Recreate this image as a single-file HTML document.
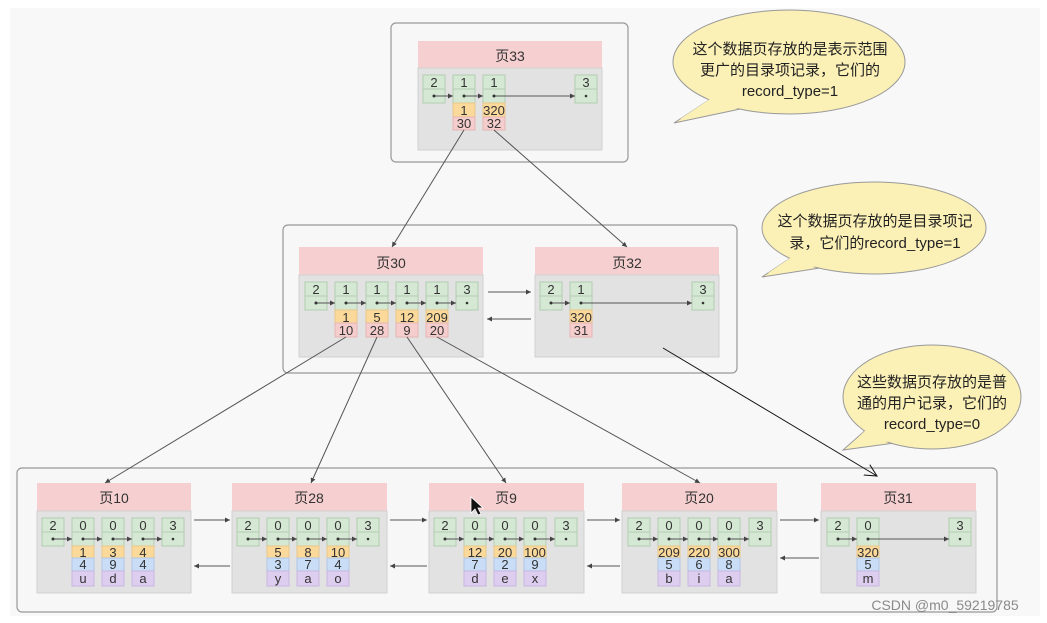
<!DOCTYPE html>
<html><head><meta charset="utf-8"><style>
html,body{margin:0;padding:0;background:#fff;}
svg{display:block;font-family:"Liberation Sans","Noto Sans CJK SC",sans-serif;}
.c{fill:#d5e8d4;stroke:#b3cdb0;stroke-width:1}
.y{fill:#fbd99a;stroke:#e9c78a}
.p{fill:#f6cdcd;stroke:#e5b5b5}
.b{fill:#c9ddf6;stroke:#b0c8e6}
.v{fill:#ddcdef;stroke:#c8b6e0}
.h{fill:#f6d0d0}
.bd{fill:#e2e2e2;stroke:#d0d0d0}
.box{fill:#f7f7f7;stroke:#999;stroke-width:1.2}
text{font-size:13px;fill:#333;text-anchor:middle}
.t{font-size:14px}
.ln{stroke:#555;stroke-width:1;fill:none}
.q{marker-start:url(#d)}
.bub{fill:#fbf0b6;stroke:#999;stroke-width:1}
.bt{font-size:15px;fill:#222}
</style></head><body>
<svg width="1047" height="623" viewBox="0 0 1047 623">
<defs>
<marker id="a" markerWidth="6" markerHeight="6" refX="5" refY="3" orient="auto" markerUnits="userSpaceOnUse"><path d="M0,0.5 L5,3 L0,5.5z" fill="#444"/></marker>
<marker id="d" markerWidth="4" markerHeight="4" refX="2" refY="2" markerUnits="userSpaceOnUse"><circle cx="2" cy="2" r="1.5" fill="#333"/></marker>
<marker id="o" markerWidth="14" markerHeight="14" refX="12" refY="7" orient="auto" markerUnits="userSpaceOnUse"><path d="M0,1 L12,7 L0,13" fill="none" stroke="#111" stroke-width="1"/></marker>
</defs>
<rect x="10" y="8" width="1030" height="608" fill="#f8f8f8"/>

<!-- TOP -->
<rect class="box" x="391" y="23" width="237" height="139" rx="5"/>
<rect class="h" x="418" y="41" width="184" height="27"/>
<rect class="bd" x="418" y="68" width="184" height="82"/>
<text x="510" y="61" class="t">页33</text>
<g>
<rect class="c" x="423" y="75" width="22" height="14"/><rect class="c" x="423" y="89" width="22" height="14"/><text x="434" y="87">2</text>
<rect class="c" x="453" y="75" width="22" height="14"/><rect class="c" x="453" y="89" width="22" height="14"/><text x="464" y="87">1</text>
<rect class="c" x="483" y="75" width="22" height="14"/><rect class="c" x="483" y="89" width="22" height="14"/><text x="494" y="87">1</text>
<rect class="c" x="575" y="75" width="22" height="14"/><rect class="c" x="575" y="89" width="22" height="14"/><text x="586" y="87">3</text>
<rect class="y" x="453" y="103" width="22" height="14"/><text x="464" y="115">1</text>
<rect class="p" x="453" y="117" width="22" height="13"/><text x="464" y="128">30</text>
<rect class="y" x="483" y="103" width="22" height="14"/><text x="494" y="115">320</text>
<rect class="p" x="483" y="117" width="22" height="13"/><text x="494" y="128">32</text>
<line class="ln q" x1="434" y1="96" x2="453" y2="96" marker-end="url(#a)"/>
<line class="ln q" x1="464" y1="96" x2="483" y2="96" marker-end="url(#a)"/>
<line class="ln q" x1="494" y1="96" x2="575" y2="96" marker-end="url(#a)"/>
<circle cx="586" cy="96" r="1.3" fill="#333"/>
</g>

<!-- MIDDLE -->
<rect class="box" x="283" y="225" width="454" height="148" rx="5"/>
<rect class="h" x="299" y="247" width="184" height="28"/>
<rect class="bd" x="299" y="275" width="184" height="82"/>
<text x="391" y="268" class="t">页30</text>
<rect class="h" x="535" y="247" width="184" height="28"/>
<rect class="bd" x="535" y="275" width="184" height="82"/>
<text x="627" y="268" class="t">页32</text>
<g>
<rect class="c" x="305" y="282" width="22" height="14"/><rect class="c" x="305" y="296" width="22" height="14"/><text x="316" y="294">2</text>
<rect class="c" x="335" y="282" width="22" height="14"/><rect class="c" x="335" y="296" width="22" height="14"/><text x="346" y="294">1</text>
<rect class="c" x="366" y="282" width="22" height="14"/><rect class="c" x="366" y="296" width="22" height="14"/><text x="377" y="294">1</text>
<rect class="c" x="396" y="282" width="22" height="14"/><rect class="c" x="396" y="296" width="22" height="14"/><text x="407" y="294">1</text>
<rect class="c" x="426" y="282" width="22" height="14"/><rect class="c" x="426" y="296" width="22" height="14"/><text x="437" y="294">1</text>
<rect class="c" x="456" y="282" width="22" height="14"/><rect class="c" x="456" y="296" width="22" height="14"/><text x="467" y="294">3</text>
<rect class="y" x="335" y="310" width="22" height="13"/><text x="346" y="322">1</text>
<rect class="p" x="335" y="323" width="22" height="14"/><text x="346" y="335">10</text>
<rect class="y" x="366" y="310" width="22" height="13"/><text x="377" y="322">5</text>
<rect class="p" x="366" y="323" width="22" height="14"/><text x="377" y="335">28</text>
<rect class="y" x="396" y="310" width="22" height="13"/><text x="407" y="322">12</text>
<rect class="p" x="396" y="323" width="22" height="14"/><text x="407" y="335">9</text>
<rect class="y" x="426" y="310" width="22" height="13"/><text x="437" y="322">209</text>
<rect class="p" x="426" y="323" width="22" height="14"/><text x="437" y="335">20</text>
<line class="ln q" x1="316" y1="303" x2="335" y2="303" marker-end="url(#a)"/>
<line class="ln q" x1="346" y1="303" x2="366" y2="303" marker-end="url(#a)"/>
<line class="ln q" x1="377" y1="303" x2="396" y2="303" marker-end="url(#a)"/>
<line class="ln q" x1="407" y1="303" x2="426" y2="303" marker-end="url(#a)"/>
<line class="ln q" x1="437" y1="303" x2="456" y2="303" marker-end="url(#a)"/>
<circle cx="467" cy="303" r="1.3" fill="#333"/>
<rect class="c" x="540" y="282" width="22" height="14"/><rect class="c" x="540" y="296" width="22" height="14"/><text x="551" y="294">2</text>
<rect class="c" x="570" y="282" width="22" height="14"/><rect class="c" x="570" y="296" width="22" height="14"/><text x="581" y="294">1</text>
<rect class="c" x="692" y="282" width="22" height="14"/><rect class="c" x="692" y="296" width="22" height="14"/><text x="703" y="294">3</text>
<rect class="y" x="570" y="310" width="22" height="13"/><text x="581" y="322">320</text>
<rect class="p" x="570" y="323" width="22" height="14"/><text x="581" y="335">31</text>
<line class="ln q" x1="551" y1="303" x2="570" y2="303" marker-end="url(#a)"/>
<line class="ln q" x1="581" y1="303" x2="692" y2="303" marker-end="url(#a)"/>
<circle cx="703" cy="303" r="1.3" fill="#333"/>
<line class="ln" x1="488" y1="292" x2="531" y2="292" marker-end="url(#a)"/>
<line class="ln" x1="531" y1="319" x2="487" y2="319" marker-end="url(#a)"/>
</g>

<!-- BOTTOM -->
<rect class="box" x="17" y="468" width="980" height="144" rx="5"/>
<g>
<!-- page10 -->
<rect class="h" x="37" y="483" width="154" height="28"/><rect class="bd" x="37" y="511" width="154" height="82"/><text x="114" y="503" class="t">页10</text>
<rect class="c" x="42" y="518" width="22" height="14"/><rect class="c" x="42" y="532" width="22" height="14"/><text x="53" y="530">2</text>
<rect class="c" x="72" y="518" width="22" height="14"/><rect class="c" x="72" y="532" width="22" height="14"/><text x="83" y="530">0</text>
<rect class="c" x="102" y="518" width="22" height="14"/><rect class="c" x="102" y="532" width="22" height="14"/><text x="113" y="530">0</text>
<rect class="c" x="132" y="518" width="22" height="14"/><rect class="c" x="132" y="532" width="22" height="14"/><text x="143" y="530">0</text>
<rect class="c" x="162" y="518" width="22" height="14"/><rect class="c" x="162" y="532" width="22" height="14"/><text x="173" y="530">3</text>
<rect class="y" x="72" y="546" width="22" height="12"/><text x="83" y="557">1</text>
<rect class="b" x="72" y="558" width="22" height="13"/><text x="83" y="569">4</text>
<rect class="v" x="72" y="571" width="22" height="15"/><text x="83" y="583">u</text>
<rect class="y" x="102" y="546" width="22" height="12"/><text x="113" y="557">3</text>
<rect class="b" x="102" y="558" width="22" height="13"/><text x="113" y="569">9</text>
<rect class="v" x="102" y="571" width="22" height="15"/><text x="113" y="583">d</text>
<rect class="y" x="132" y="546" width="22" height="12"/><text x="143" y="557">4</text>
<rect class="b" x="132" y="558" width="22" height="13"/><text x="143" y="569">4</text>
<rect class="v" x="132" y="571" width="22" height="15"/><text x="143" y="583">a</text>
<line class="ln q" x1="53" y1="539" x2="72" y2="539" marker-end="url(#a)"/>
<line class="ln q" x1="83" y1="539" x2="102" y2="539" marker-end="url(#a)"/>
<line class="ln q" x1="113" y1="539" x2="132" y2="539" marker-end="url(#a)"/>
<line class="ln q" x1="143" y1="539" x2="162" y2="539" marker-end="url(#a)"/>
<circle cx="173" cy="539" r="1.3" fill="#333"/>

<!-- page28 -->
<rect class="h" x="232" y="483" width="155" height="28"/><rect class="bd" x="232" y="511" width="155" height="82"/><text x="309" y="503" class="t">页28</text>
<rect class="c" x="237" y="518" width="22" height="14"/><rect class="c" x="237" y="532" width="22" height="14"/><text x="248" y="530">2</text>
<rect class="c" x="267" y="518" width="22" height="14"/><rect class="c" x="267" y="532" width="22" height="14"/><text x="278" y="530">0</text>
<rect class="c" x="297" y="518" width="22" height="14"/><rect class="c" x="297" y="532" width="22" height="14"/><text x="308" y="530">0</text>
<rect class="c" x="327" y="518" width="22" height="14"/><rect class="c" x="327" y="532" width="22" height="14"/><text x="338" y="530">0</text>
<rect class="c" x="357" y="518" width="22" height="14"/><rect class="c" x="357" y="532" width="22" height="14"/><text x="368" y="530">3</text>
<rect class="y" x="267" y="546" width="22" height="12"/><text x="278" y="557">5</text>
<rect class="b" x="267" y="558" width="22" height="13"/><text x="278" y="569">3</text>
<rect class="v" x="267" y="571" width="22" height="15"/><text x="278" y="583">y</text>
<rect class="y" x="297" y="546" width="22" height="12"/><text x="308" y="557">8</text>
<rect class="b" x="297" y="558" width="22" height="13"/><text x="308" y="569">7</text>
<rect class="v" x="297" y="571" width="22" height="15"/><text x="308" y="583">a</text>
<rect class="y" x="327" y="546" width="22" height="12"/><text x="338" y="557">10</text>
<rect class="b" x="327" y="558" width="22" height="13"/><text x="338" y="569">4</text>
<rect class="v" x="327" y="571" width="22" height="15"/><text x="338" y="583">o</text>
<line class="ln q" x1="248" y1="539" x2="267" y2="539" marker-end="url(#a)"/>
<line class="ln q" x1="278" y1="539" x2="297" y2="539" marker-end="url(#a)"/>
<line class="ln q" x1="308" y1="539" x2="327" y2="539" marker-end="url(#a)"/>
<line class="ln q" x1="338" y1="539" x2="357" y2="539" marker-end="url(#a)"/>
<circle cx="368" cy="539" r="1.3" fill="#333"/>

<!-- page9 -->
<rect class="h" x="429" y="483" width="155" height="28"/><rect class="bd" x="429" y="511" width="155" height="82"/><text x="506" y="503" class="t">页9</text>
<rect class="c" x="434" y="518" width="22" height="14"/><rect class="c" x="434" y="532" width="22" height="14"/><text x="445" y="530">2</text>
<rect class="c" x="464" y="518" width="22" height="14"/><rect class="c" x="464" y="532" width="22" height="14"/><text x="475" y="530">0</text>
<rect class="c" x="494" y="518" width="22" height="14"/><rect class="c" x="494" y="532" width="22" height="14"/><text x="505" y="530">0</text>
<rect class="c" x="524" y="518" width="22" height="14"/><rect class="c" x="524" y="532" width="22" height="14"/><text x="535" y="530">0</text>
<rect class="c" x="555" y="518" width="22" height="14"/><rect class="c" x="555" y="532" width="22" height="14"/><text x="566" y="530">3</text>
<rect class="y" x="464" y="546" width="22" height="12"/><text x="475" y="557">12</text>
<rect class="b" x="464" y="558" width="22" height="13"/><text x="475" y="569">7</text>
<rect class="v" x="464" y="571" width="22" height="15"/><text x="475" y="583">d</text>
<rect class="y" x="494" y="546" width="22" height="12"/><text x="505" y="557">20</text>
<rect class="b" x="494" y="558" width="22" height="13"/><text x="505" y="569">2</text>
<rect class="v" x="494" y="571" width="22" height="15"/><text x="505" y="583">e</text>
<rect class="y" x="524" y="546" width="22" height="12"/><text x="535" y="557">100</text>
<rect class="b" x="524" y="558" width="22" height="13"/><text x="535" y="569">9</text>
<rect class="v" x="524" y="571" width="22" height="15"/><text x="535" y="583">x</text>
<line class="ln q" x1="445" y1="539" x2="464" y2="539" marker-end="url(#a)"/>
<line class="ln q" x1="475" y1="539" x2="494" y2="539" marker-end="url(#a)"/>
<line class="ln q" x1="505" y1="539" x2="524" y2="539" marker-end="url(#a)"/>
<line class="ln q" x1="535" y1="539" x2="555" y2="539" marker-end="url(#a)"/>
<circle cx="566" cy="539" r="1.3" fill="#333"/>

<!-- page20 -->
<rect class="h" x="622" y="483" width="155" height="28"/><rect class="bd" x="622" y="511" width="155" height="82"/><text x="699" y="503" class="t">页20</text>
<rect class="c" x="628" y="518" width="22" height="14"/><rect class="c" x="628" y="532" width="22" height="14"/><text x="639" y="530">2</text>
<rect class="c" x="658" y="518" width="22" height="14"/><rect class="c" x="658" y="532" width="22" height="14"/><text x="669" y="530">0</text>
<rect class="c" x="688" y="518" width="22" height="14"/><rect class="c" x="688" y="532" width="22" height="14"/><text x="699" y="530">0</text>
<rect class="c" x="718" y="518" width="22" height="14"/><rect class="c" x="718" y="532" width="22" height="14"/><text x="729" y="530">0</text>
<rect class="c" x="749" y="518" width="22" height="14"/><rect class="c" x="749" y="532" width="22" height="14"/><text x="760" y="530">3</text>
<rect class="y" x="658" y="546" width="22" height="12"/><text x="669" y="557">209</text>
<rect class="b" x="658" y="558" width="22" height="13"/><text x="669" y="569">5</text>
<rect class="v" x="658" y="571" width="22" height="15"/><text x="669" y="583">b</text>
<rect class="y" x="688" y="546" width="22" height="12"/><text x="699" y="557">220</text>
<rect class="b" x="688" y="558" width="22" height="13"/><text x="699" y="569">6</text>
<rect class="v" x="688" y="571" width="22" height="15"/><text x="699" y="583">i</text>
<rect class="y" x="718" y="546" width="22" height="12"/><text x="729" y="557">300</text>
<rect class="b" x="718" y="558" width="22" height="13"/><text x="729" y="569">8</text>
<rect class="v" x="718" y="571" width="22" height="15"/><text x="729" y="583">a</text>
<line class="ln q" x1="639" y1="539" x2="658" y2="539" marker-end="url(#a)"/>
<line class="ln q" x1="669" y1="539" x2="688" y2="539" marker-end="url(#a)"/>
<line class="ln q" x1="699" y1="539" x2="718" y2="539" marker-end="url(#a)"/>
<line class="ln q" x1="729" y1="539" x2="749" y2="539" marker-end="url(#a)"/>
<circle cx="760" cy="539" r="1.3" fill="#333"/>

<!-- page31 -->
<rect class="h" x="821" y="483" width="155" height="28"/><rect class="bd" x="821" y="511" width="155" height="82"/><text x="898" y="503" class="t">页31</text>
<rect class="c" x="827" y="518" width="22" height="14"/><rect class="c" x="827" y="532" width="22" height="14"/><text x="838" y="530">2</text>
<rect class="c" x="857" y="518" width="22" height="14"/><rect class="c" x="857" y="532" width="22" height="14"/><text x="868" y="530">0</text>
<rect class="c" x="949" y="518" width="22" height="14"/><rect class="c" x="949" y="532" width="22" height="14"/><text x="960" y="530">3</text>
<rect class="y" x="857" y="546" width="22" height="12"/><text x="868" y="557">320</text>
<rect class="b" x="857" y="558" width="22" height="13"/><text x="868" y="569">5</text>
<rect class="v" x="857" y="571" width="22" height="15"/><text x="868" y="583">m</text>
<line class="ln q" x1="838" y1="539" x2="857" y2="539" marker-end="url(#a)"/>
<line class="ln q" x1="868" y1="539" x2="949" y2="539" marker-end="url(#a)"/>
<circle cx="960" cy="539" r="1.3" fill="#333"/>
</g>
<!-- sibling arrows -->
<line class="ln" x1="194" y1="520" x2="230" y2="520" marker-end="url(#a)"/>
<line class="ln" x1="230" y1="566" x2="194" y2="566" marker-end="url(#a)"/>
<line class="ln" x1="390" y1="520" x2="427" y2="520" marker-end="url(#a)"/>
<line class="ln" x1="427" y1="566" x2="390" y2="566" marker-end="url(#a)"/>
<line class="ln" x1="587" y1="520" x2="620" y2="520" marker-end="url(#a)"/>
<line class="ln" x1="620" y1="566" x2="587" y2="566" marker-end="url(#a)"/>
<line class="ln" x1="780" y1="520" x2="819" y2="520" marker-end="url(#a)"/>
<line class="ln" x1="819" y1="558" x2="780" y2="558" marker-end="url(#a)"/>

<!-- tree connectors -->
<line class="ln" x1="464" y1="130" x2="392" y2="247" marker-end="url(#a)"/>
<line class="ln" x1="494" y1="130" x2="627" y2="247" marker-end="url(#a)"/>
<line class="ln" x1="346" y1="337" x2="105" y2="483" marker-end="url(#a)"/>
<line class="ln" x1="377" y1="337" x2="311" y2="483" marker-end="url(#a)"/>
<line class="ln" x1="407" y1="337" x2="506" y2="483" marker-end="url(#a)"/>
<line class="ln" x1="437" y1="337" x2="700" y2="483" marker-end="url(#a)"/>
<line x1="663" y1="348" x2="877" y2="476" stroke="#111" stroke-width="1" marker-end="url(#o)"/>

<!-- bubbles -->
<polygon class="bub" points="712,98 674,123 745,108"/>
<ellipse class="bub" cx="789" cy="62" rx="116" ry="52"/>
<polygon points="713,97 680,119 745,107" fill="#fbf0b6"/>
<text class="bt" x="790" y="54">这个数据页存放的是表示范围</text>
<text class="bt" x="790" y="75">更广的目录项记录，它们的</text>
<text class="bt" x="790" y="96">record_type=1</text>

<polygon class="bub" points="795,255 762,277 820,268"/>
<ellipse class="bub" cx="874" cy="228" rx="112" ry="46"/>
<polygon points="796,254 768,273 820,266" fill="#fbf0b6"/>
<text class="bt" x="875" y="226">这个数据页存放的是目录项记</text>
<text class="bt" x="875" y="248">录，它们的record_type=1</text>

<polygon class="bub" points="868,428 843,450 895,443"/>
<ellipse class="bub" cx="932" cy="397" rx="89" ry="52"/>
<polygon points="869,427 849,446 895,441" fill="#fbf0b6"/>
<text class="bt" x="932" y="387">这些数据页存放的是普</text>
<text class="bt" x="932" y="408">通的用户记录，它们的</text>
<text class="bt" x="932" y="429">record_type=0</text>

<!-- cursor -->
<path d="M471,497 L471,513 L475,509 L478,515 L481,514 L478,508 L483,508 Z" fill="#111" stroke="#fff" stroke-width="0.8"/>

<text x="945" y="610" style="font-size:14px;fill:#8a8a8a;text-anchor:middle">CSDN @m0_59219785</text>
</svg>
</body></html>
